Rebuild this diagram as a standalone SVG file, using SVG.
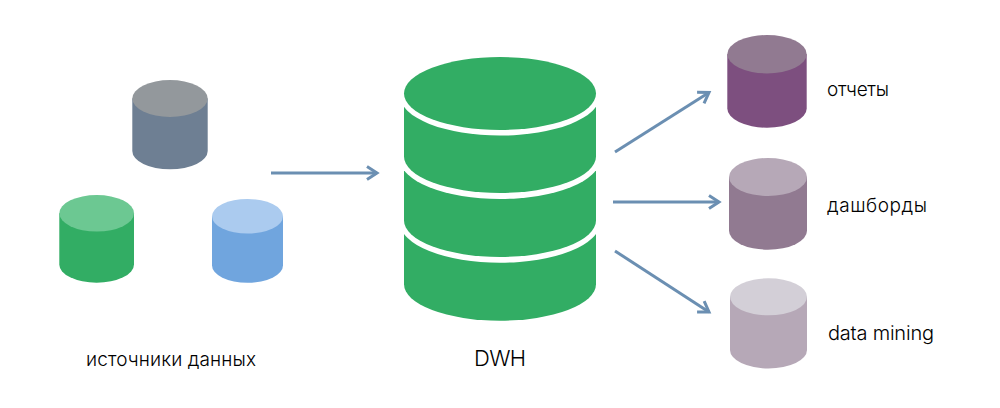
<svg xmlns="http://www.w3.org/2000/svg" width="1000" height="408" viewBox="0 0 1000 408">
<style>
text{font-family:"Inter","Noto Sans","Liberation Sans",sans-serif;font-weight:300;fill:#000;font-size:19px}
.c{fill:none;stroke:#6b8fb2;stroke-width:3}
.g{fill:#32ad64}
.w{fill:#fff}
</style>
<defs>
<clipPath id="dwhClip"><rect x="404" y="50" width="192" height="280"/></clipPath>
<marker id="head" markerUnits="userSpaceOnUse" markerWidth="20" markerHeight="20" refX="12" refY="8" orient="auto" viewBox="0 0 20 20"><path d="M2 1.5L12 8L2 14.5" fill="none" stroke="#6b8fb2" stroke-width="3"/></marker>
</defs>
<rect width="1000" height="408" fill="#fff"/>
<g id="connectors">
<line class="c" x1="271" y1="173" x2="377" y2="173" marker-end="url(#head)"/>
<line class="c" x1="615" y1="152" x2="709" y2="92.5" marker-end="url(#head)"/>
<line class="c" x1="613" y1="202" x2="719" y2="202" marker-end="url(#head)"/>
<line class="c" x1="615" y1="251" x2="709" y2="312" marker-end="url(#head)"/>
</g>
<g id="source-gray">
<path fill="#6e7f93" d="M132.3 98.5V151A37.7 18.3 0 0 0 207.7 151V98.5Z"/>
<ellipse fill="#93989c" cx="170" cy="98.5" rx="37.7" ry="18.5"/>
</g>
<g id="source-green">
<path fill="#32ad64" d="M59.3 213.3V264.4A37.3 18.3 0 0 0 134 264.4V213.3Z"/>
<ellipse fill="#6cc892" cx="96.7" cy="213.3" rx="37.3" ry="18.3"/>
</g>
<g id="source-blue">
<path fill="#70a5de" d="M212 216.3V265.4A35.5 17.3 0 0 0 283 265.4V216.3Z"/>
<ellipse fill="#abcbef" cx="247.5" cy="216.3" rx="35.5" ry="17.3"/>
</g>
<g id="source-label"><text x="86" y="366" textLength="170">источники данных</text></g>
<g id="dwh">
<path class="g" d="M404 222V284.2A96 36.5 0 0 0 596 284.2V222Z"/>
<ellipse class="w" clip-path="url(#dwhClip)" cx="500" cy="222.7" rx="100" ry="40"/>
<path class="g" d="M404 158V220.5A96 36.5 0 0 0 596 220.5V158Z"/>
<ellipse class="w" clip-path="url(#dwhClip)" cx="500" cy="159" rx="100" ry="40"/>
<path class="g" d="M404 93.5V156.5A96 36.5 0 0 0 596 156.5V93.5Z"/>
<ellipse class="w" clip-path="url(#dwhClip)" cx="500" cy="95.6" rx="100" ry="40"/>
<ellipse class="g" cx="500" cy="93.5" rx="96" ry="36.5"/>
<text x="474" y="366" textLength="52" style="font-size:22px">DWH</text>
</g>
<g id="reports">
<path fill="#7d4f7f" d="M727.3 54.2V108.5A39.7 19.2 0 0 0 806.7 108.5V54.2Z"/>
<ellipse fill="#917a91" cx="767" cy="54.2" rx="39.7" ry="19.2"/>
<text x="827" y="96" textLength="62">отчеты</text>
</g>
<g id="dashboards">
<path fill="#917a91" d="M729 177V230.7A39 19 0 0 0 807 230.7V177Z"/>
<ellipse fill="#b6a8b7" cx="768" cy="177" rx="39" ry="19"/>
<text x="827" y="212" textLength="100">дашборды</text>
</g>
<g id="data-mining">
<path fill="#b6a8b7" d="M730 296.8V350A38.5 18.5 0 0 0 807 350V296.8Z"/>
<ellipse fill="#d3cfd7" cx="768.5" cy="296.8" rx="38.5" ry="18.5"/>
<text x="828" y="340" textLength="106" style="font-size:20px">data mining</text>
</g>
</svg>
